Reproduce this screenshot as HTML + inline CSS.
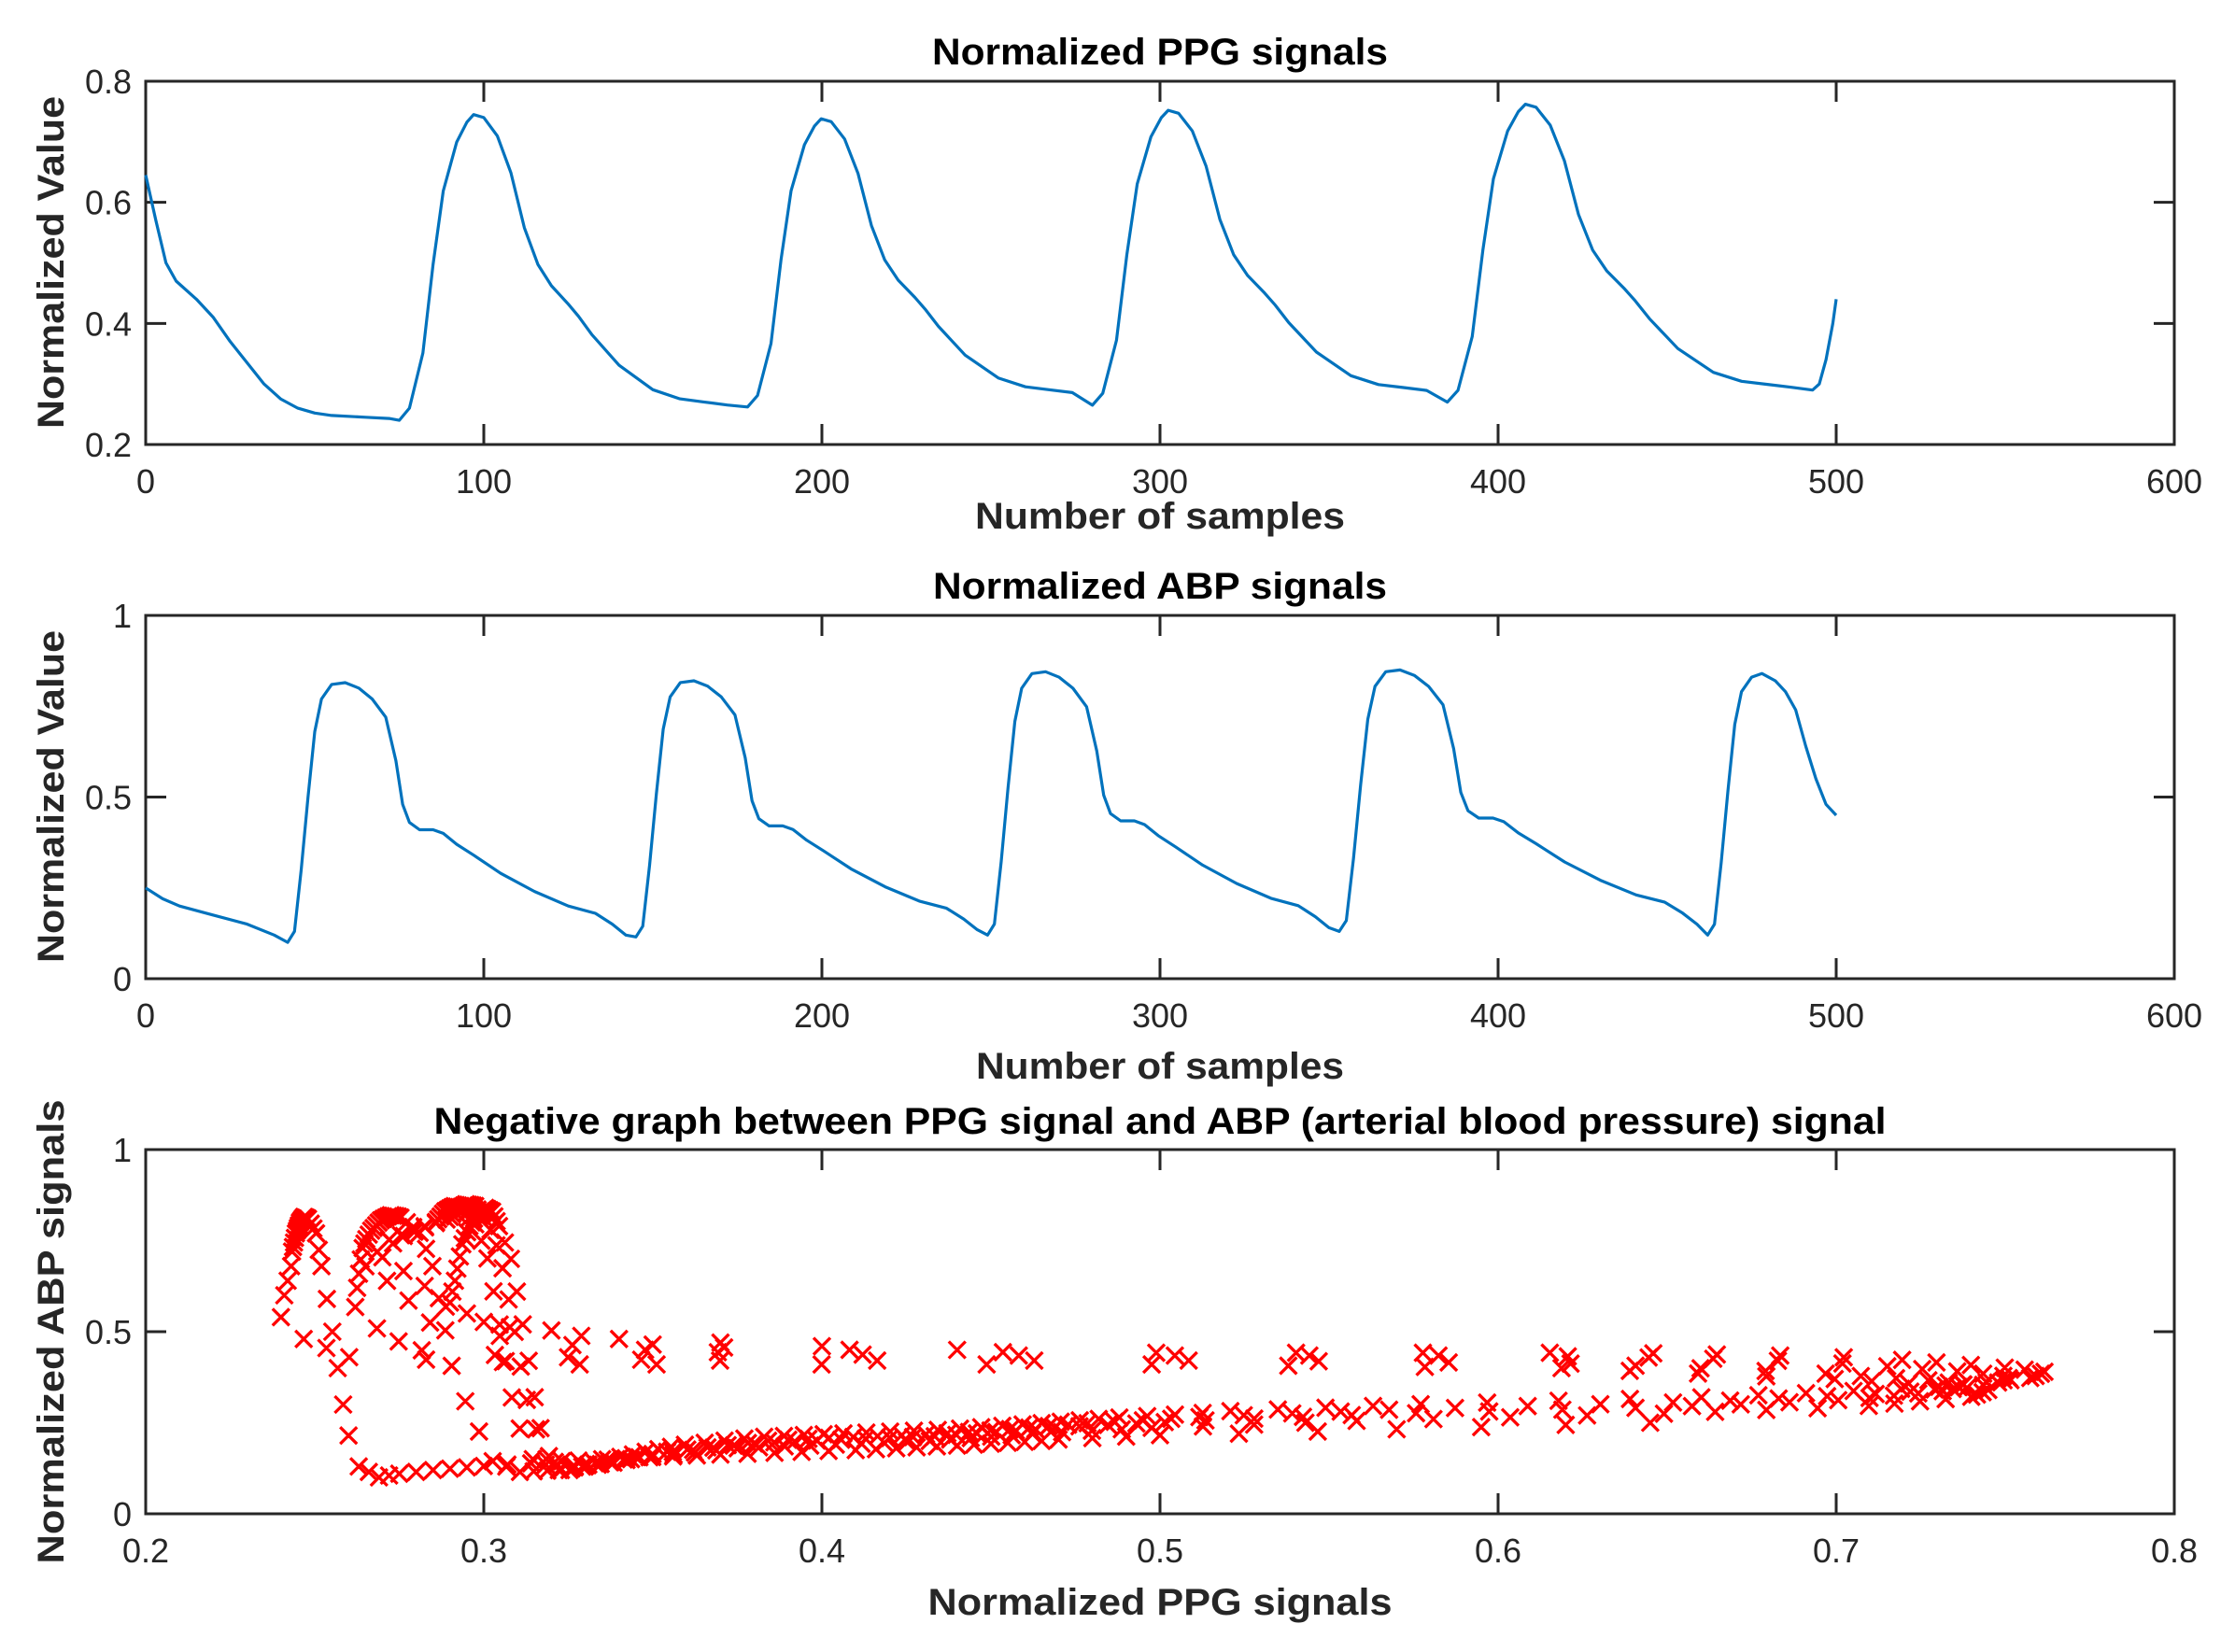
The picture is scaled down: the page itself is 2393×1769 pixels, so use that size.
<!DOCTYPE html>
<html><head><meta charset="utf-8"><style>
html,body{margin:0;padding:0;background:#fff}
svg{display:block}
text{font-family:"Liberation Sans",Arial,sans-serif;fill:#262626}
.t{font-size:36px}
.b{font-size:40px;font-weight:bold}
.ti{font-size:40px;font-weight:bold;fill:#000}
</style></head><body>
<svg id="s" width="2393" height="1769" viewBox="0 0 2393 1769" xmlns="http://www.w3.org/2000/svg">
<text class="ti" x="1242" y="69" text-anchor="middle" textLength="488" lengthAdjust="spacingAndGlyphs">Normalized PPG signals</text>
<text class="ti" x="1242" y="641" text-anchor="middle" textLength="486" lengthAdjust="spacingAndGlyphs">Normalized ABP signals</text>
<text class="ti" x="1242" y="1214" text-anchor="middle" textLength="1555" lengthAdjust="spacingAndGlyphs">Negative graph between PPG signal and ABP (arterial blood pressure) signal</text>
<text class="b" x="1242" y="566" text-anchor="middle" textLength="396" lengthAdjust="spacingAndGlyphs">Number of samples</text>
<text class="b" x="1242" y="1155" text-anchor="middle" textLength="394" lengthAdjust="spacingAndGlyphs">Number of samples</text>
<text class="b" x="1242" y="1729" text-anchor="middle" textLength="497" lengthAdjust="spacingAndGlyphs">Normalized PPG signals</text>
<text class="b" transform="translate(68,281) rotate(-90)" text-anchor="middle" textLength="356" lengthAdjust="spacingAndGlyphs">Normalized Value</text>
<text class="b" transform="translate(68,853) rotate(-90)" text-anchor="middle" textLength="356" lengthAdjust="spacingAndGlyphs">Normalized Value</text>
<text class="b" transform="translate(68,1426) rotate(-90)" text-anchor="middle" textLength="497" lengthAdjust="spacingAndGlyphs">Normalized ABP signals</text>
<g id="g"></g>
</svg>
<script>
var NS="http://www.w3.org/2000/svg",G=document.getElementById('g');
function el(n,a,txt){var e=document.createElementNS(NS,n);for(var k in a)e.setAttribute(k,a[k]);if(txt!=null)e.textContent=txt;G.appendChild(e);return e;}
var L=156,R=2328;
function axes(top,bot,xt,xl,yt,yl,xf,yf){
 el('rect',{x:L,y:top,width:R-L,height:bot-top,fill:'none',stroke:'#262626','stroke-width':3});
 var p='';
 xt.forEach(function(v){var x=xf(v);p+='M'+x+' '+bot+'v-22M'+x+' '+top+'v22';});
 yt.forEach(function(v){var y=yf(v);p+='M'+L+' '+y+'h22M'+R+' '+y+'h-22';});
 el('path',{d:p,stroke:'#262626','stroke-width':3,fill:'none'});
 xt.forEach(function(v,i){el('text',{'class':'t',x:xf(v),y:bot+52,'text-anchor':'middle'},xl[i]);});
 yt.forEach(function(v,i){el('text',{'class':'t',x:141,y:yf(v)+13,'text-anchor':'end'},yl[i]);});
}
var xs=function(v){return L+v*(R-L)/600;};
var y1=function(v){return 476-(v-0.2)/0.6*389;};
var y2=function(v){return 1048-v*389;};
var x3=function(v){return L+(v-0.2)/0.6*(R-L);};
var y3=function(v){return 1621-v*390;};
var xt=[0,100,200,300,400,500,600],xl=xt.map(String);
axes(87,476,xt,xl,[0.2,0.4,0.6,0.8],['0.2','0.4','0.6','0.8'],xs,y1);
axes(659,1048,xt,xl,[0,0.5,1],['0','0.5','1'],xs,y2);
var x3t=[0.2,0.3,0.4,0.5,0.6,0.7,0.8];
axes(1231,1621,x3t,['0.2','0.3','0.4','0.5','0.6','0.7','0.8'],[0,0.5,1],['0','0.5','1'],x3,y3);

// PPG
var P=[[0,0.645],[3,0.57],[6,0.5],[9,0.47],[15,0.44],[20,0.41],[25,0.37],[30,0.335],[35,0.30],[40,0.275],[45,0.26],[50,0.252],[55,0.248],[65,0.245],[72,0.243]];
var T=[[0,0],[3,0.04],[7,0.22],[10,0.51],[13,0.75],[17,0.91],[20,0.975],[22,1],[25,0.99],[29,0.93],[33,0.81],[37,0.63],[41,0.51],[45,0.44],[50,0.38],[53,0.34],[57,0.28],[65,0.18],[75,0.10],[83,0.07],[90,0.06],[97,0.05]];
var C=[[75,0.24,0.745,103],[178,0.262,0.738,102],[280,0.265,0.752,105],[385,0.27,0.762,108]];
C.forEach(function(c){var f=c[3]/103;T.forEach(function(t){P.push([c[0]+t[0]*f,c[1]+t[1]*(c[2]-c[1])]);});});
P.push([493,0.29],[495,0.30],[497,0.34],[499,0.40],[500,0.44]);
// ABP
var A=[[0,0.25],[5,0.22],[10,0.2],[20,0.175],[30,0.15],[38,0.12]];
var TA=[[0,0.10],[2,0.13],[4,0.3],[6,0.5],[8,0.68],[10,0.77],[13,0.81],[17,0.815],[21,0.8],[25,0.77],[29,0.72],[32,0.6],[34,0.48],[36,0.43],[39,0.41],[43,0.41],[46,0.40],[50,0.37],[55,0.34],[63,0.29],[73,0.24],[83,0.2],[91,0.18],[96,0.15],[100,0.12]];
var CA=[[42,0,0,103],[145,0.015,0.005,104],[249,0.02,0.03,104],[353,0.03,0.035,109]];
CA.forEach(function(c){var f=c[3]/103;TA.forEach(function(t){var fr=(t[1]-0.1)/0.715;A.push([c[0]+t[0]*f,t[1]+c[1]*(1-fr)+c[2]*fr]);});});
[[0,0.12],[2,0.15],[4,0.32],[6,0.52],[8,0.7],[10,0.79],[13,0.83],[16,0.84],[20,0.82],[23,0.79],[26,0.74],[29,0.64],[32,0.55],[35,0.48],[38,0.45]].forEach(function(t){A.push([462+t[0],t[1]]);});
function interp(S,x){for(var i=1;i<S.length;i++){if(S[i][0]>=x){var a=S[i-1],b=S[i];var t=(x-a[0])/((b[0]-a[0])||1);return a[1]+t*(b[1]-a[1]);}}return S[S.length-1][1];}
function line(S,yf){var d='';S.forEach(function(p,i){d+=(i?'L':'M')+xs(p[0]).toFixed(1)+' '+yf(p[1]).toFixed(1);});
 el('path',{d:d,fill:'none',stroke:'#0072BD','stroke-width':3.2,'stroke-linejoin':'round'});}
line(P,y1);line(A,y2);
var d='';
for(var i=0;i<=500;i++){var px=x3(interp(P,i)),py=y3(interp(A,i));d+='M'+(px-9).toFixed(1)+' '+(py-9).toFixed(1)+'l18 18M'+(px-9).toFixed(1)+' '+(py+9).toFixed(1)+'l18 -18';}
el('path',{d:d,stroke:'#FF0000','stroke-width':3.3,fill:'none'});
</script>
</body></html>
